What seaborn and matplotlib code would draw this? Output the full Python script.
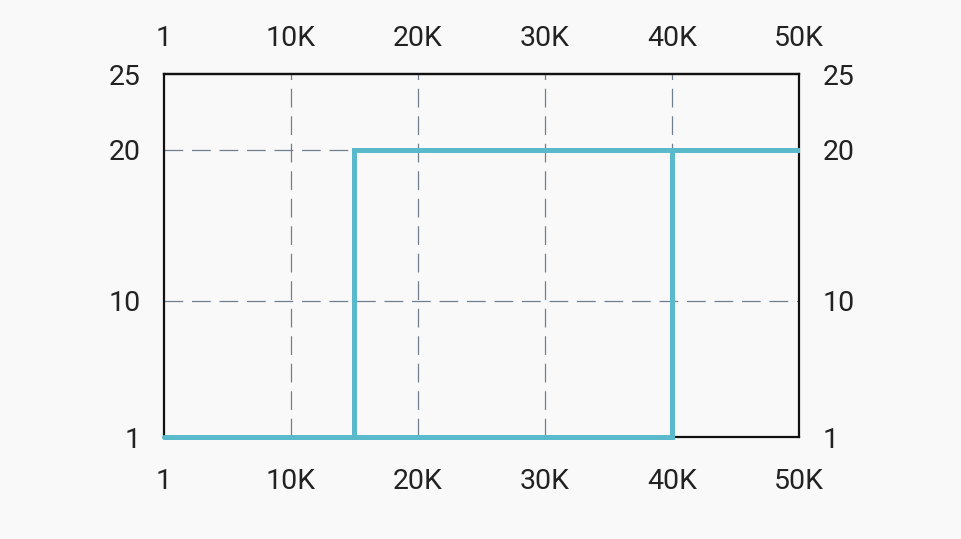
import matplotlib
matplotlib.use("Agg")
import matplotlib.pyplot as plt
import seaborn as sns
import pandas as pd

# Data (path of the step line)
x_vals = [1, 15000, 15000, 50000, 40000, 40000, 15000]
y_vals = [1, 1, 20, 20, 20, 1, 1]
x_ticks = [1, 10000, 20000, 30000, 40000, 50000]
x_labels = ["1", "10K", "20K", "30K", "40K", "50K"]
y_ticks = [1, 10, 20, 25]
y_labels = ["1", "10", "20", "25"]

sns.set_theme(style="white")
plt.rcParams['font.family'] = ['Roboto', 'DejaVu Sans']

bg = "#f9f9f9"
txt = "#222222"
fig = plt.figure(figsize=(9.62, 5.39), dpi=100, facecolor=bg)
ax = fig.add_axes([164/962, (539-437)/539, 635/962, 363/539])
ax.set_facecolor(bg)

df = pd.DataFrame({"x": x_vals, "y": y_vals})
sns.lineplot(data=df, x="x", y="y", sort=False, estimator=None, ax=ax,
             color="#5ab9cb", linewidth=3.6, zorder=3)
for ln in ax.get_lines():
    ln.set_clip_on(False)
    ln.set_solid_joinstyle("miter")

ax.set_xlim(1, 50000)
ax.set_ylim(1, 25)
ax.set_xlabel("")
ax.set_ylabel("")

for v in [10000, 20000, 30000, 40000]:
    ax.axvline(v, color="#6f7f8f", linewidth=0.9, dashes=(15, 7), zorder=1)
for v in [10, 20]:
    ax.axhline(v, color="#6f7f8f", linewidth=0.9, dashes=(15, 7), zorder=1)

fs = 20.5
ax.set_xticks(x_ticks)
ax.set_xticklabels(x_labels)
ax.set_yticks(y_ticks)
ax.set_yticklabels(y_labels)
ax.tick_params(axis="x", which="both", length=0, labelsize=fs, colors=txt,
               top=False, labeltop=False, bottom=True, labelbottom=True, pad=22)
ax.tick_params(axis="y", which="both", length=0, labelsize=fs, colors=txt,
               left=True, labelleft=True, right=True, labelright=True, pad=17)

sec = ax.secondary_xaxis('top')
sec.set_xticks(x_ticks)
sec.set_xticklabels(x_labels)
sec.tick_params(axis="x", length=0, labelsize=fs, colors=txt, pad=15.5)
sec.spines['top'].set_color("#111111")
sec.spines['top'].set_linewidth(1.6)

for s in ax.spines.values():
    s.set_visible(True)
    s.set_color("#111111")
    s.set_linewidth(1.6)
    s.set_zorder(2)

fig.savefig("out.png", dpi=100, facecolor=bg)
